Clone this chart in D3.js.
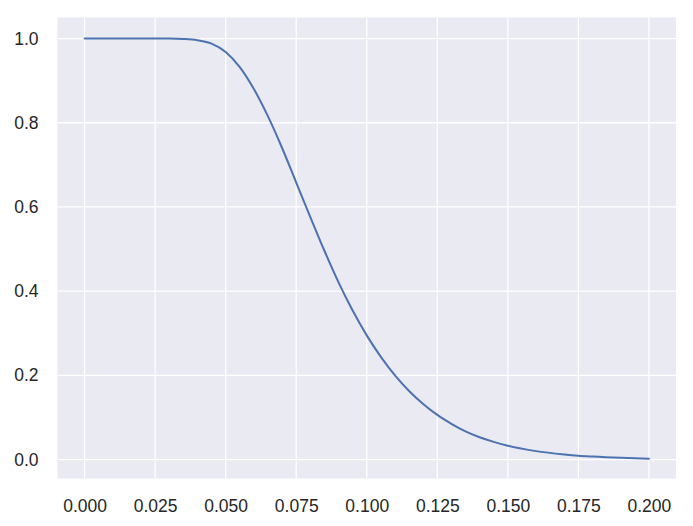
<!DOCTYPE html>
<html>
<head>
<meta charset="utf-8">
<script src="https://cdn.jsdelivr.net/npm/d3@7"></script>
<style>
  body { margin: 0; background: #ffffff; }
  .tick text { font-family: "Liberation Sans", Arial, sans-serif; font-size: 17.5px; fill: #262626; }
</style>
</head>
<body>
<div id="chart"></div>
<script>
// values
const xValues = [0, 0.01, 0.02, 0.03, 0.035, 0.04, 0.045, 0.05, 0.055, 0.06, 0.065, 0.07, 0.075, 0.08,
  0.085, 0.09, 0.095, 0.1, 0.105, 0.11, 0.115, 0.12, 0.125, 0.13, 0.135, 0.14, 0.145, 0.15,
  0.16, 0.17, 0.175, 0.18, 0.19, 0.2];
const yValues = [1, 1, 1, 1, 0.999, 0.996, 0.988, 0.968, 0.932, 0.88, 0.815, 0.74, 0.658, 0.576,
  0.496, 0.421, 0.354, 0.295, 0.244, 0.2, 0.163, 0.132, 0.106, 0.085, 0.067, 0.053, 0.042, 0.033,
  0.02, 0.012, 0.009, 0.007, 0.004, 0.002];
const xTicks = [0, 0.025, 0.05, 0.075, 0.1, 0.125, 0.15, 0.175, 0.2];
const yTicks = [0, 0.2, 0.4, 0.6, 0.8, 1.0];

const data = xValues.map(function(x, i) { return {x: x, y: yValues[i]}; });

const width = 693, height = 526;
const plot = {left: 57.5, right: 676, top: 17.5, bottom: 478.5};

const xScale = d3.scaleLinear().domain([-0.0096, 0.2096]).range([plot.left, plot.right]);
const yScale = d3.scaleLinear().domain([-0.045, 1.05]).range([plot.bottom, plot.top]);

const svg = d3.select("#chart")
  .append("svg")
  .attr("width", width)
  .attr("height", height);

// background
svg.append("rect")
  .attr("x", plot.left)
  .attr("y", plot.top)
  .attr("width", plot.right - plot.left)
  .attr("height", plot.bottom - plot.top)
  .attr("fill", "#eaeaf2");

// grid
svg.append("g").selectAll("line")
  .data(xTicks).enter().append("line")
  .attr("x1", function(d) { return xScale(d); })
  .attr("x2", function(d) { return xScale(d); })
  .attr("y1", plot.top).attr("y2", plot.bottom)
  .attr("stroke", "#ffffff").attr("stroke-width", 1.3);

svg.append("g").selectAll("line")
  .data(yTicks).enter().append("line")
  .attr("y1", function(d) { return yScale(d); })
  .attr("y2", function(d) { return yScale(d); })
  .attr("x1", plot.left).attr("x2", plot.right)
  .attr("stroke", "#ffffff").attr("stroke-width", 1.3);

// axes (no visible ticks / domain)
const xAxis = svg.append("g")
  .attr("transform", "translate(0," + plot.bottom + ")")
  .call(d3.axisBottom(xScale).tickValues(xTicks).tickFormat(d3.format(".3f")).tickSize(0).tickPadding(21));
xAxis.select(".domain").remove();

const yAxis = svg.append("g")
  .attr("transform", "translate(" + plot.left + ",0)")
  .call(d3.axisLeft(yScale).tickValues(yTicks).tickFormat(d3.format(".1f")).tickSize(0).tickPadding(19));
yAxis.select(".domain").remove();

// curve
const line = d3.line()
  .x(function(d) { return xScale(d.x); })
  .y(function(d) { return yScale(d.y); })
  .curve(d3.curveMonotoneX);

svg.append("path")
  .datum(data)
  .attr("d", line)
  .attr("fill", "none")
  .attr("stroke", "#4c72b0")
  .attr("stroke-width", 2)
  .attr("stroke-linecap", "round");
</script>
</body>
</html>
